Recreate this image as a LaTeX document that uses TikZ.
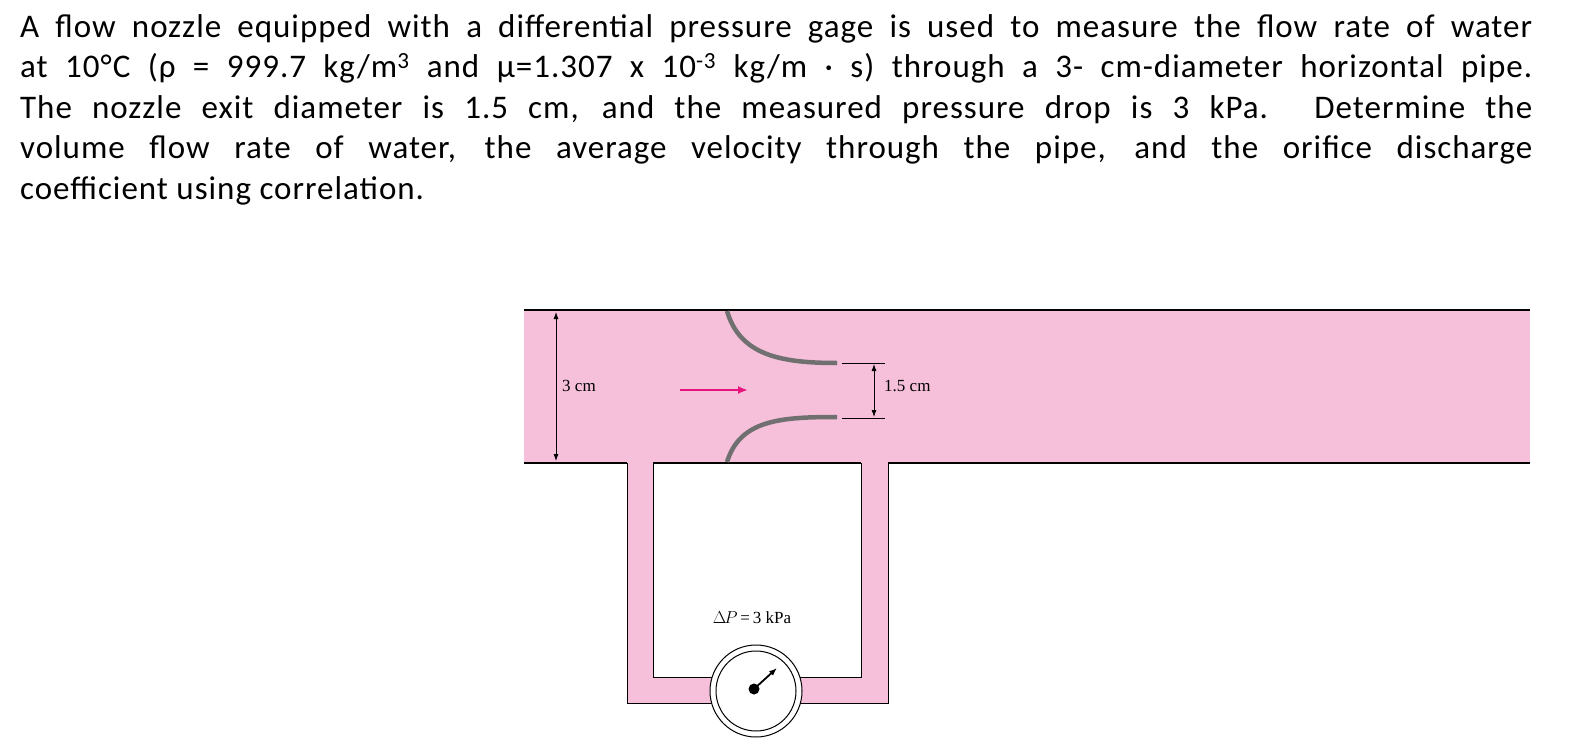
\documentclass[tikz,border=0pt]{standalone}
\usepackage{fontspec}
\setmainfont{Carlito}[LetterSpace=3]
\newfontfamily\figfont{Liberation Serif}
\usetikzlibrary{arrows.meta}
\definecolor{pinkf}{HTML}{F6C0DA}
\definecolor{nozg}{HTML}{707070}
\definecolor{magarr}{HTML}{E8137D}
\tikzset{dim/.style={draw=black,line width=0.8pt,{Latex[length=7pt,width=5pt]}-{Latex[length=7pt,width=5pt]}},
wall/.style={draw=black,line width=2pt},
lbl/.style={font=\figfont\fontsize{17}{20}\selectfont,inner sep=0pt}}
\begin{document}
\begin{tikzpicture}[x=1pt,y=-1pt]
\useasboundingbox (0,0) rectangle (1586,746);
\node[anchor=north west,text width=1512pt,align=justify,inner sep=0pt,font=\fontsize{33}{40.5}\selectfont] (txt) at (20,14)
{\hfuzz=40pt A flow nozzle equipped with a differential pressure gage is used to measure the flow rate of water\linebreak at 10°C (ρ = 999.7 kg/m\textsuperscript{3} and μ=1.307 x 10\textsuperscript{-3} kg/m · s) through a 3- cm-diameter horizontal pipe.\linebreak The nozzle exit diameter is 1.5 cm, and the measured pressure drop is 3 kPa. Determine the\linebreak volume flow rate of water, the average velocity through the pipe, and the orifice discharge\linebreak coefficient using correlation.};
% pipe and legs fill
\fill[pinkf] (524,310) rectangle (1530,463);
\fill[pinkf] (627,463) -- (627,703) -- (888,703) -- (888,463) -- (861,463) -- (861,677) -- (653,677) -- (653,463) -- cycle;
\draw[black,line width=1pt] (627,463) -- (627,703) -- (888,703) -- (888,463);
\draw[black,line width=1pt] (653,463) -- (653,677) -- (861,677) -- (861,463);
\draw[wall] (524,310) -- (1530,310);
\draw[wall] (524,463) -- (627,463);
\draw[wall] (653,463) -- (861,463);
\draw[wall] (888,463) -- (1530,463);
% nozzle
\draw[nozg,line width=4.5pt] (727,311) .. controls (740,355) and (780,363) .. (837,363);
\draw[nozg,line width=4.5pt] (727,462) .. controls (740,420) and (780,417) .. (837,417);
% dimensions
\coordinate (t3) at (556,312); \coordinate (b3) at (556,461);
\draw[dim] (t3) -- (b3);
\node[lbl,anchor=west] (l3) at (562,386) {3 cm};
\draw[line width=0.7pt] (842,363) -- (885,363);
\draw[line width=0.7pt] (842,418) -- (885,418);
\coordinate (t15) at (874,364); \coordinate (b15) at (874,417);
\draw[dim] (t15) -- (b15);
\node[lbl,anchor=west] (l15) at (884,386) {1.5 cm};
\coordinate (a1) at (680,390); \coordinate (a2) at (748,390);
\draw[magarr,line width=2pt,-{Latex[length=10pt,width=8pt]}] (a1) -- (a2);
\node[lbl] (dp) at (752,618) {$\Delta\mkern-2mu P$\,=\,3 kPa};
% gauge
\node[circle,draw,line width=1pt,fill=white,minimum size=92pt,inner sep=0pt] (g) at (756,691) {};
\node[circle,draw,line width=1pt,minimum size=80pt,inner sep=0pt] (gi) at (756,691) {};
\node[circle,fill=black,minimum size=11pt,inner sep=0pt] (hub) at (754,689) {};
\coordinate (tip) at (777,668);
\draw[line width=1.8pt,-{Latex[length=8pt,width=6pt]}] (hub.center) -- (tip);
\end{tikzpicture}
\end{document}
